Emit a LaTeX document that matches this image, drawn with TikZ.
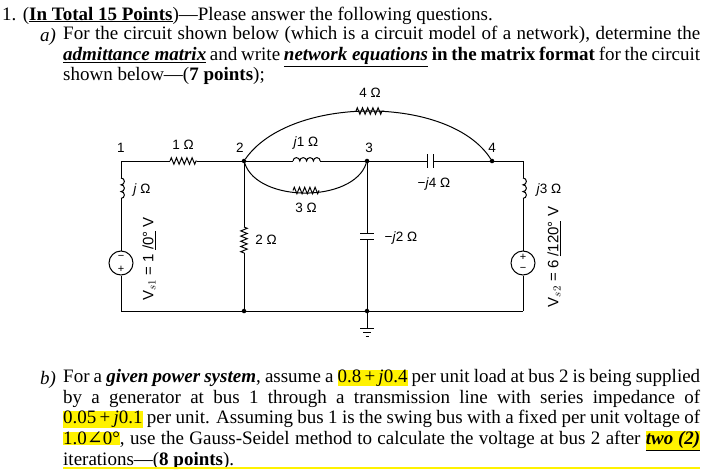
\documentclass[tikz,border=0pt]{standalone}
\usepackage{fontspec}
\setmainfont{Liberation Serif}
\setsansfont{Liberation Sans}
\newfontfamily\symf{DejaVu Serif}
\usetikzlibrary{decorations.pathmorphing}
\begin{document}
\begin{tikzpicture}[x=1pt,y=-1pt,
  txt/.style={anchor=base west,inner sep=0,font=\fontsize{19}{20.7}\selectfont},
  para/.style={txt,anchor=north west,text width=637pt,align=justify},
  lbl/.style={font=\sffamily\fontsize{13.5}{14}\selectfont,inner sep=1pt},
  vlbl/.style={font=\sffamily\fontsize{15}{16}\selectfont,inner sep=1pt},
  wire/.style={line width=1pt},
  res/.style={line width=1pt,decorate,decoration={zigzag,segment length=5.2pt,amplitude=3.2pt}},
  dot/.style={circle,fill,inner sep=1.6pt}]
\useasboundingbox (0,0) rectangle (719,471);
% text
\node[txt] (t1) at (2,20) {1. (\textbf{\underline{In Total 15 Points}})—Please answer the following questions.};
\node[txt] (la) at (40,41) {\textit{a)}};
\node[para] (pa) at (63,26) {For the circuit shown below (which is a circuit model of a network), determine the\linebreak \textbf{\textit{\underline{admittance matrix}}} and write \textbf{\textit{\underline{network equations}}} \textbf{in the matrix format} for the circuit\linebreak shown below—(\textbf{7 points});};
\node[txt] (lb) at (40,384) {\textit{b)}};
\setlength{\fboxsep}{0pt}
\node[para] (pb) at (63,369) {For a \textbf{\textit{given power system}}, assume a \colorbox{yellow}{0.8\,+\,\textit{j}0.4} per unit load at bus 2 is being supplied\linebreak by a generator at bus 1 through a transmission line with series impedance of\linebreak \colorbox{yellow}{0.05\,+\,\textit{j}0.1} per unit. Assuming bus 1 is the swing bus with a fixed per unit voltage of\linebreak \colorbox{yellow}{1.0{\symf ∠}0°}, use the Gauss-Seidel method to calculate the voltage at bus 2 after \colorbox{yellow}{\textbf{\textit{\underline{two (2)}}}}\linebreak iterations—(\textbf{8 points}).};
\draw[yellow,line width=1.2pt] (63,468) -- (700,468);
% circuit coordinates
\coordinate (n1) at (121,161);
\node[dot] (n2) at (244,161) {};
\node[dot] (n3) at (367,161) {};
\node[dot] (n4) at (492,161) {};
\coordinate (n5) at (523,161);
\coordinate (b1) at (121,311);
\node[dot] (b2) at (244,311) {};
\node[dot] (b3) at (367,311) {};
\coordinate (b4) at (523,311);
% top wire
\draw[wire] (n1) -- (170,161);
\draw[res] (170,161) -- (197,161);
\draw[wire] (197,161) -- (n2) -- (293,161);
\draw[wire] (293,161) arc(180:360:3.4) arc(180:360:3.4) arc(180:360:3.4) arc(180:360:3.4);
\draw[wire] (320.2,161) -- (n3) -- (427,161);
\draw[wire] (427,154) -- (427,168) (433,154) -- (433,168);
\draw[wire] (433,161) -- (n4) -- (n5);
% arcs
\draw[wire] (n2) .. controls (290,95) and (450,95) .. (n4);
\draw[res] (356,111) -- (384,111);
\draw[wire] (n2) .. controls (258,203) and (353,203) .. (n3);
\draw[res] (293,190.5) -- (319,190.5);
% left branch
\draw[wire] (n1) -- (121,178);
\draw[wire] (121,178) arc(-90:90:3.4) arc(-90:90:3.4) arc(-90:90:3.4);
\draw[wire] (121,198.4) -- (121,251);
\node[draw,circle,line width=1pt,minimum size=24pt,inner sep=0] (s1) at (121,263) {};
\node[font=\sffamily\fontsize{11}{11}\selectfont,inner sep=0] at (121,257) {−};
\node[font=\sffamily\fontsize{11}{11}\selectfont,inner sep=0] at (121,269) {+};
\draw[wire] (s1) -- (b1) -- (b2) -- (b3) -- (b4);
% right branch
\draw[wire] (n5) -- (523,178);
\draw[wire] (523,178) arc(-90:90:3.4) arc(-90:90:3.4) arc(-90:90:3.4);
\draw[wire] (523,198.4) -- (523,251);
\node[draw,circle,line width=1pt,minimum size=24pt,inner sep=0] (s2) at (523,263) {};
\node[font=\sffamily\fontsize{11}{11}\selectfont,inner sep=0] at (523,257) {+};
\node[font=\sffamily\fontsize{11}{11}\selectfont,inner sep=0] at (523,269) {−};
\draw[wire] (s2) -- (b4);
% 2 ohm
\draw[wire] (n2) -- (244,227);
\draw[res] (244,227) -- (244,253);
\draw[wire] (244,253) -- (b2);
% -j2
\draw[wire] (n3) -- (367,233);
\draw[wire] (360,233) -- (374,233) (360,239) -- (374,239);
\draw[wire] (367,239) -- (b3);
% ground
\coordinate (g) at (367,328);
\draw[wire] (b3) -- (g);
\draw[wire] (360,328) -- (374,328) (363,332) -- (371,332) (365.5,336) -- (368.5,336);
% labels
\node[lbl] at (121,148) {1};
\node[lbl] at (240,148) {2};
\node[lbl] at (369,148) {3};
\node[lbl] at (492,148) {4};
\node[lbl] at (183,145) {1 Ω};
\node[lbl] at (306,143) {\textit{j}1 Ω};
\node[lbl] at (306,208) {3 Ω};
\node[lbl] at (370,93) {4 Ω};
\node[lbl] at (434,184) {−\textit{j}4 Ω};
\node[lbl] at (142,190) {\textit{j} Ω};
\node[lbl] at (549,190) {\textit{j}3 Ω};
\node[lbl] at (266,240) {2 Ω};
\node[lbl] at (401,238) {−\textit{j}2 Ω};
\node[vlbl,rotate=90] at (149,259) {V$_{s1}$ = 1 \underline{/0°} V};
\node[vlbl,rotate=90] at (554,257) {V$_{s2}$ = 6 \underline{/120°} V};
\end{tikzpicture}
\end{document}
